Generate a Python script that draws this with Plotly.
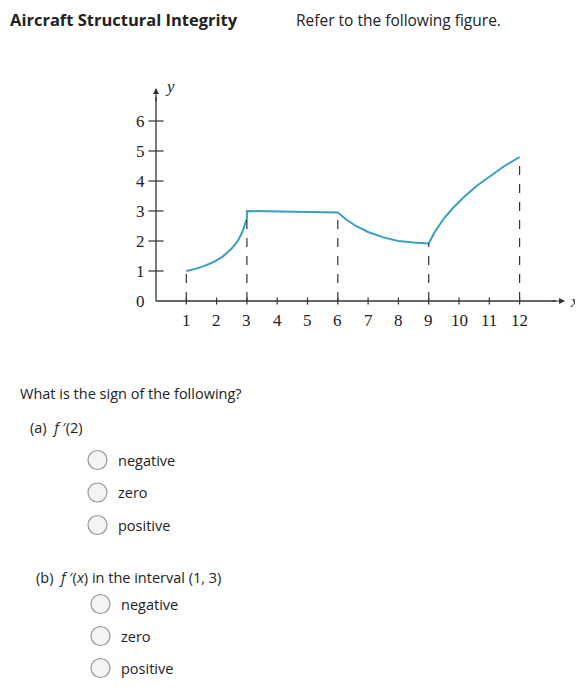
import plotly.graph_objects as go

W, H = 583, 700
OFF = 8  # page body margin

# curve pieces
seg1_x = [1, 1.3, 1.6, 1.9, 2.2, 2.5, 2.7, 2.85, 3, 3]
seg1_y = [1, 1.07, 1.17, 1.3, 1.48, 1.75, 2.0, 2.3, 2.75, 3]
seg2_x = [3, 6]
seg2_y = [3, 2.95]
seg3_x = [6, 6.3, 6.6, 7, 7.5, 8, 8.5, 9]
seg3_y = [2.95, 2.7, 2.5, 2.3, 2.12, 2.0, 1.95, 1.92]
seg4_x = [9, 9.2, 9.5, 9.8, 10.2, 10.6, 11, 11.5, 12]
seg4_y = [1.92, 2.3, 2.75, 3.1, 3.5, 3.85, 4.15, 4.5, 4.8]

dash_x = [1, 3, 6, 9, 12]
dash_top = [1, 2.75, 2.95, 1.92, 4.8]
x_ticks = [1, 2, 3, 4, 5, 6, 7, 8, 9, 10, 11, 12]
y_ticks = [1, 2, 3, 4, 5, 6]

options_a = ["negative", "zero", "positive"]
options_b = ["negative", "zero", "positive"]

BLUE = "#3a9fbf"
fig = go.Figure()

curve_x = seg1_x + seg2_x + seg3_x + seg4_x
curve_y = seg1_y + seg2_y + seg3_y + seg4_y
fig.add_trace(go.Scatter(x=curve_x, y=curve_y, mode="lines", line=dict(color=BLUE, width=2)))

for xv, yt in zip(dash_x, dash_top):
    fig.add_trace(go.Scatter(x=[xv, xv], y=[0, yt], mode="lines",
                             line=dict(color="#333", width=1.2, dash="dash")))

# axes
fig.add_trace(go.Scatter(x=[0, 13.2], y=[0, 0], mode="lines", line=dict(color="#333", width=1.3)))
fig.add_trace(go.Scatter(x=[0, 0], y=[0, 6.8], mode="lines", line=dict(color="#333", width=1.3)))
for t in x_ticks:
    fig.add_trace(go.Scatter(x=[t, t], y=[-0.12, 0.12], mode="lines", line=dict(color="#333", width=1.2)))
for t in y_ticks:
    fig.add_trace(go.Scatter(x=[-0.25, 0.25], y=[t, t], mode="lines", line=dict(color="#333", width=1.2)))

serif = dict(family="Liberation Serif", size=17, color="#222")
ann = []
for t in x_ticks:
    ann.append(dict(x=t, y=-0.25, text=str(t), showarrow=False, yanchor="top", font=serif, xref="x", yref="y"))
for t in [0] + y_ticks:
    ann.append(dict(x=-0.3, y=t, text=str(t), showarrow=False, xanchor="right", font=serif, xref="x", yref="y"))
ann.append(dict(x=13.5, y=0, ax=13.0, ay=0, axref="x", ayref="y", xref="x", yref="y", text="",
                showarrow=True, arrowhead=2, arrowsize=1, arrowwidth=1.2, arrowcolor="#333"))
ann.append(dict(x=0, y=7.1, ax=0, ay=6.6, axref="x", ayref="y", xref="x", yref="y", text="",
                showarrow=True, arrowhead=2, arrowsize=1, arrowwidth=1.2, arrowcolor="#333"))
ann.append(dict(x=13.8, y=0, text="<i>x</i>", showarrow=False, font=serif, xref="x", yref="y"))
ann.append(dict(x=0.45, y=7.15, text="<i>y</i>", showarrow=False, font=serif, xref="x", yref="y"))


def px_text(x, y, text, size=15, bold=False, color="#222"):
    if bold:
        text = "<b>" + text + "</b>"
    ann.append(dict(x=(x - OFF) / W, y=1 - (y - OFF) / H, xref="paper", yref="paper", text=text,
                    showarrow=False, xanchor="left", yanchor="middle",
                    font=dict(family="Open Sans", size=size, color=color)))


px_text(8, 20, "Aircraft Structural Integrity", 16.5, bold=True)
px_text(294, 20, "Refer to the following figure.", 15.5)
px_text(18, 393, "What is the sign of the following?", 14.5)
px_text(28, 427, "(a)  <i>f</i> ′(2)", 14.5)
px_text(34, 577, "(b)  <i>f</i> ′(<i>x</i>) in the interval (1, 3)", 14.5)

shapes = []
for i, lab in enumerate(options_a):
    cy = 460 + i * 32.5 - OFF
    shapes.append(dict(type="circle", xref="paper", yref="paper",
                       x0=(88 - OFF) / W, x1=(107 - OFF) / W, y0=1 - (cy + 9.5) / H, y1=1 - (cy - 9.5) / H,
                       line=dict(color="#999", width=1.2), fillcolor="#f4f4f4"))
    px_text(116, cy + OFF, lab, 14.5)
for i, lab in enumerate(options_b):
    cy = 604 + i * 32 - OFF
    shapes.append(dict(type="circle", xref="paper", yref="paper",
                       x0=(91 - OFF) / W, x1=(110 - OFF) / W, y0=1 - (cy + 9.5) / H, y1=1 - (cy - 9.5) / H,
                       line=dict(color="#999", width=1.2), fillcolor="#f4f4f4"))
    px_text(119, cy + OFF, lab, 14.5)

# x: 0 at page px 156, 30.3 px/unit; y: 0 at page px 301, 30 px/unit
x0p, x1p = 120 - OFF, 575 - OFF
y0p, y1p = 345 - OFF, 80 - OFF
fig.update_layout(
    width=W, height=H, showlegend=False,
    margin=dict(l=0, r=0, t=0, b=0),
    paper_bgcolor="white", plot_bgcolor="white",
    xaxis=dict(range=[(120 - 156) / 30.3, (575 - 156) / 30.3], domain=[x0p / W, x1p / W], visible=False),
    yaxis=dict(range=[(301 - 345) / 30, (301 - 80) / 30], domain=[1 - y0p / H, 1 - y1p / H], visible=False),
    annotations=ann, shapes=shapes,
)

fig.write_html("out.html")
